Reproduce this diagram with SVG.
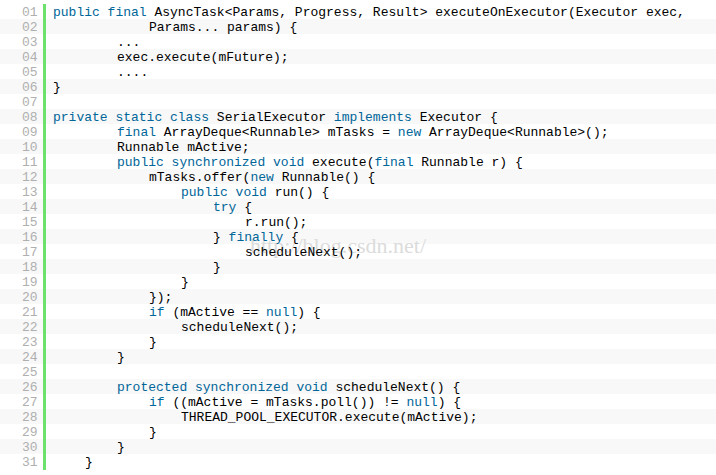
<svg xmlns="http://www.w3.org/2000/svg" width="716" height="475" viewBox="0 0 716 475">
<style>
.n{font-family:"Liberation Mono",monospace;font-size:13px;fill:#afafaf}
.c{font-family:"Liberation Mono",monospace;font-size:13px;fill:#000;white-space:pre}
.k{fill:#006699}
.alt{fill:#f8f8f8}
</style>
<rect width="716" height="475" fill="#fff"/>
<g id="stripes">
<rect class="alt" x="0" y="19" width="716" height="15"/><rect class="alt" x="0" y="49" width="716" height="15"/>
<rect class="alt" x="0" y="79" width="716" height="15"/><rect class="alt" x="0" y="109" width="716" height="15"/>
<rect class="alt" x="0" y="139" width="716" height="15"/><rect class="alt" x="0" y="169" width="716" height="15"/>
<rect class="alt" x="0" y="199" width="716" height="15"/><rect class="alt" x="0" y="229" width="716" height="15"/>
<rect class="alt" x="0" y="259" width="716" height="15"/><rect class="alt" x="0" y="289" width="716" height="15"/>
<rect class="alt" x="0" y="319" width="716" height="15"/><rect class="alt" x="0" y="349" width="716" height="15"/>
<rect class="alt" x="0" y="379" width="716" height="15"/><rect class="alt" x="0" y="409" width="716" height="15"/>
<rect class="alt" x="0" y="439" width="716" height="15"/>
</g>
<rect id="bar" x="43" y="4" width="3" height="466" fill="#6ce26c"/>
<g id="numbers" class="n">
<text x="22" y="16">01</text><text x="22" y="31">02</text><text x="22" y="46">03</text><text x="22" y="61">04</text><text x="22" y="76">05</text><text x="22" y="91">06</text><text x="22" y="106">07</text><text x="22" y="121">08</text><text x="22" y="136">09</text><text x="22" y="151">10</text><text x="22" y="166">11</text><text x="22" y="181">12</text><text x="22" y="196">13</text><text x="22" y="211">14</text><text x="22" y="226">15</text><text x="22" y="241">16</text><text x="22" y="256">17</text><text x="22" y="271">18</text><text x="22" y="286">19</text><text x="22" y="301">20</text><text x="22" y="316">21</text><text x="22" y="331">22</text><text x="22" y="346">23</text><text x="22" y="361">24</text><text x="22" y="376">25</text><text x="22" y="391">26</text><text x="22" y="406">27</text><text x="22" y="421">28</text><text x="22" y="436">29</text><text x="22" y="451">30</text><text x="22" y="466">31</text>
</g>
<text x="250" y="253" font-family="Liberation Serif,serif" font-size="22" fill="#dcdcdc">http://blog.csdn.net/</text>
<g id="code" class="c">
<text x="53" y="16"><tspan class="k">public final</tspan> AsyncTask&lt;Params, Progress, Result&gt; executeOnExecutor(Executor exec,</text>
<text x="149" y="31">Params... params) {</text>
<text x="117" y="46">...</text>
<text x="117" y="61">exec.execute(mFuture);</text>
<text x="117" y="76">....</text>
<text x="53" y="91">}</text>
<text x="53" y="121"><tspan class="k">private static class</tspan> SerialExecutor <tspan class="k">implements</tspan> Executor {</text>
<text x="117" y="136"><tspan class="k">final</tspan> ArrayDeque&lt;Runnable&gt; mTasks = <tspan class="k">new</tspan> ArrayDeque&lt;Runnable&gt;();</text>
<text x="117" y="151">Runnable mActive;</text>
<text x="117" y="166"><tspan class="k">public synchronized void</tspan> execute(<tspan class="k">final</tspan> Runnable r) {</text>
<text x="149" y="181">mTasks.offer(<tspan class="k">new</tspan> Runnable() {</text>
<text x="181" y="196"><tspan class="k">public void</tspan> run() {</text>
<text x="213" y="211"><tspan class="k">try</tspan> {</text>
<text x="245" y="226">r.run();</text>
<text x="213" y="241">} <tspan class="k">finally</tspan> {</text>
<text x="245" y="256">scheduleNext();</text>
<text x="213" y="271">}</text>
<text x="181" y="286">}</text>
<text x="149" y="301">});</text>
<text x="149" y="316"><tspan class="k">if</tspan> (mActive == <tspan class="k">null</tspan>) {</text>
<text x="181" y="331">scheduleNext();</text>
<text x="149" y="346">}</text>
<text x="117" y="361">}</text>
<text x="117" y="391"><tspan class="k">protected synchronized void</tspan> scheduleNext() {</text>
<text x="149" y="406"><tspan class="k">if</tspan> ((mActive = mTasks.poll()) != <tspan class="k">null</tspan>) {</text>
<text x="181" y="421">THREAD_POOL_EXECUTOR.execute(mActive);</text>
<text x="149" y="436">}</text>
<text x="117" y="451">}</text>
<text x="85" y="466">}</text>
</g>
</svg>
